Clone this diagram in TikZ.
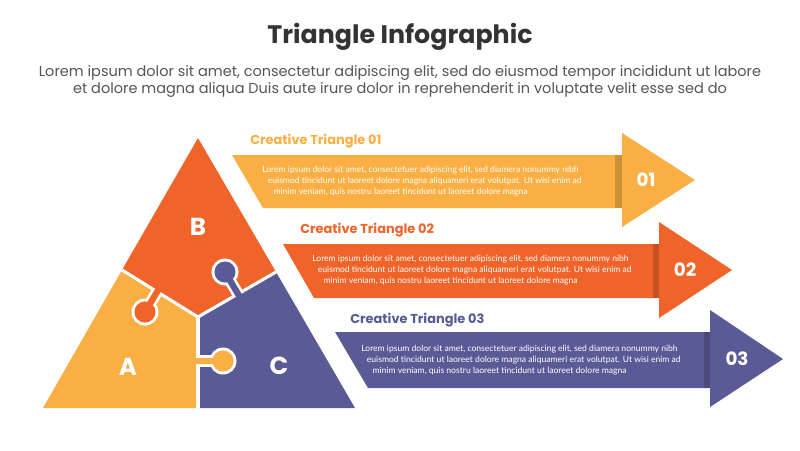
\documentclass[tikz,border=0pt]{standalone}
\usepackage{fontspec}
\setmainfont{Lato}
\newfontfamily\pop{Poppins}
\usepackage{tikz}
\usetikzlibrary{calc}

\definecolor{cyel}{HTML}{FAAF44}
\definecolor{corg}{HTML}{F0642A}
\definecolor{cpur}{HTML}{5A5A96}
\definecolor{ctitle}{HTML}{333333}
\definecolor{csub}{HTML}{555555}

\begin{document}
\begin{tikzpicture}[x=0.025cm, y=-0.025cm,
    gapline/.style={white, line width=2.2pt},
    knobwhite/.style={white, line width=8.2pt},
    knobneck/.style={line width=4.5pt},
    bartitle/.style={anchor=west, inner sep=0pt, font=\pop\bfseries\fontsize{9.2}{11}\selectfont},
    bartext/.style={anchor=west, inner sep=0pt, align=left, text=white, font=\fontsize{6.1}{7.6}\selectfont},
    numlabel/.style={text=white, font=\pop\bfseries\fontsize{13}{15}\selectfont},
    piecelabel/.style={text=white, font=\pop\bfseries\fontsize{17.5}{19}\selectfont}
]
    \fill[white] (0,0) rectangle (800,450);
    \useasboundingbox (0,0) rectangle (800,450);

    % header
    \node[text=ctitle, font=\pop\bfseries\fontsize{18}{22}\selectfont] (title) at (400,37) {Triangle Infographic};
    \node[text=csub, align=center, font=\pop\fontsize{10.3}{12.1}\selectfont] (subtitle) at (400,81)
        {Lorem ipsum dolor sit amet, consectetur adipiscing elit, sed do eiusmod tempor incididunt ut labore\\
         et dolore magna aliqua Duis aute irure dolor in reprehenderit in voluptate velit esse sed do};

    % triangle corners
    \coordinate (apex) at (198,138);
    \coordinate (botL) at (43,408);
    \coordinate (botR) at (355,408);
    \coordinate (mid)  at (198,317);
    \coordinate (edgeL) at (122,270);
    \coordinate (edgeR) at (276,272);
    \coordinate (botM) at (198,408);

    % puzzle pieces
    \fill[corg] (apex) -- (edgeR) -- (mid) -- (edgeL) -- cycle;
    \fill[cyel] (edgeL) -- (mid) -- (botM) -- (botL) -- cycle;
    \fill[cpur] (edgeR) -- (botR) -- (botM) -- (mid) -- cycle;
    \draw[gapline] (edgeL) -- (mid) -- (edgeR);
    \draw[gapline] (mid) -- (botM);

    % knobs
    \coordinate (knobBf) at (157,292);
    \coordinate (knobBc) at (145,312);
    \coordinate (knobCf) at (238,294);
    \coordinate (knobCc) at (225,272);
    \coordinate (knobAf) at (198,361);
    \coordinate (knobAc) at (223,361);

    \draw[knobwhite] (knobBf) -- (knobBc);
    \fill[white] (knobBc) circle (9.6pt);
    \draw[knobneck, corg] ($(knobBf)!-0.1cm!(knobBc)$) -- (knobBc);
    \fill[corg] (knobBc) circle (7.5pt);

    \draw[knobwhite] (knobCf) -- (knobCc);
    \fill[white] (knobCc) circle (9.6pt);
    \draw[knobneck, cpur] ($(knobCf)!-0.1cm!(knobCc)$) -- (knobCc);
    \fill[cpur] (knobCc) circle (7.5pt);

    \draw[knobwhite] (knobAf) -- (knobAc);
    \fill[white] (knobAc) circle (9.6pt);
    \draw[knobneck, cyel] ($(knobAf)!-0.1cm!(knobAc)$) -- (knobAc);
    \fill[cyel] (knobAc) circle (7.5pt);

    \node[piecelabel] (labB) at (198,227) {B};
    \node[piecelabel] (labA) at (128,367) {A};
    \node[piecelabel] (labC) at (279,366) {C};

    % bar 01
    \fill[cyel] (232,155) -- (618,155) -- (618,208) -- (263,208) -- cycle;
    \fill[cyel!82!black] (615,155) rectangle (622,208);
    \fill[cyel] (622,133) -- (695,180) -- (622,227) -- cycle;
    \node[numlabel] (num1) at (646,180) {01};
    \node[bartitle, text=cyel] (head1) at (250,141) {Creative Triangle 01};
    \node[bartext] (text1) at (262,181)
        {Lorem ipsum dolor sit amet, consectetuer adipiscing elit, sed diamera nonummy nibh\\
         \hspace*{4pt}euismod tincidunt ut laoreet dolore magna aliquameri erat volutpat. Ut wisi enim ad\\
         \hspace*{8pt}minim veniam, quis nostru laoreet tincidunt ut laoreet dolore magna};

    % bar 02
    \fill[corg] (283,244) -- (656,244) -- (656,298) -- (314,298) -- cycle;
    \fill[corg!82!black] (653,244) rectangle (659,298);
    \fill[corg] (659,222) -- (732,270) -- (659,318) -- cycle;
    \node[numlabel] (num2) at (685,270) {02};
    \node[bartitle, text=corg] (head2) at (300,230) {Creative Triangle 02};
    \node[bartext] (text2) at (312,270)
        {Lorem ipsum dolor sit amet, consectetuer adipiscing elit, sed diamera nonummy nibh\\
         \hspace*{4pt}euismod tincidunt ut laoreet dolore magna aliquameri erat volutpat. Ut wisi enim ad\\
         \hspace*{8pt}minim veniam, quis nostru laoreet tincidunt ut laoreet dolore magna};

    % bar 03
    \fill[cpur] (335,332) -- (708,332) -- (708,388) -- (368,388) -- cycle;
    \fill[cpur!82!black] (704,332) rectangle (710,388);
    \fill[cpur] (710,310) -- (783,359) -- (710,407) -- cycle;
    \node[numlabel] (num3) at (737,359) {03};
    \node[bartitle, text=cpur] (head3) at (350,320) {Creative Triangle 03};
    \node[bartext] (text3) at (361,360)
        {Lorem ipsum dolor sit amet, consectetuer adipiscing elit, sed diamera nonummy nibh\\
         \hspace*{4pt}euismod tincidunt ut laoreet dolore magna aliquameri erat volutpat. Ut wisi enim ad\\
         \hspace*{8pt}minim veniam, quis nostru laoreet tincidunt ut laoreet dolore magna};
\end{tikzpicture}
\end{document}
